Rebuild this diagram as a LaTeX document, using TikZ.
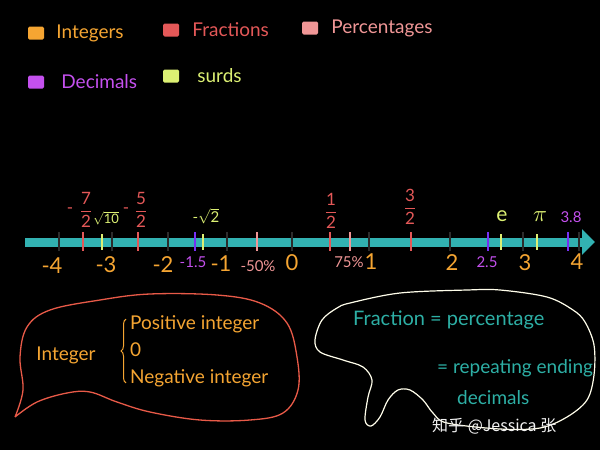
\RequirePackage{fix-cm}
\documentclass[tikz,border=0pt]{standalone}
\usepackage{fontspec}
\usepackage{amsmath}
\setmainfont{Lato}
\newfontfamily\cjkfont{Noto Sans CJK SC}
\usetikzlibrary{positioning,arrows.meta,decorations.pathreplacing}

\definecolor{intcol}{RGB}{245,165,50}
\definecolor{fraccol}{RGB}{228,88,88}
\definecolor{pctcol}{RGB}{240,150,150}
\definecolor{deccol}{RGB}{196,80,238}
\definecolor{surdcol}{RGB}{220,240,115}
\definecolor{barcol}{RGB}{50,178,178}
\definecolor{bubred}{RGB}{232,90,72}
\definecolor{tealtext}{RGB}{45,175,165}

\begin{document}
\begin{tikzpicture}[x=1pt,y=-1pt,
  key/.style={minimum width=16pt,minimum height=13pt,inner sep=0pt,rounded corners=1.5pt},
  keytext/.style={font=\fontsize{19}{22}\selectfont,inner sep=0pt},
  tick/.style={line width=1.3pt},
  lbl/.style={inner sep=0pt,font=\fontsize{22}{26}\selectfont},
  small/.style={inner sep=0pt,font=\fontsize{15}{17}\selectfont},
  fracl/.style={inner sep=0pt,font=\fontsize{17}{19}\selectfont},
  surd/.style={inner sep=0pt},
  bubtext/.style={inner sep=0pt,font=\fontsize{19}{27}\selectfont}]
\fill[black] (0,0) rectangle (600,450);
\useasboundingbox (0,0) rectangle (600,450);

% legend
\node[key,fill=intcol] (kint) at (36,33) {};
\node[keytext,text=intcol,right=12pt of kint] (tint) {Integers};
\node[key,fill=fraccol] (kfrac) at (171,30) {};
\node[keytext,text=fraccol,right=13pt of kfrac] (tfrac) {Fractions};
\node[key,fill=pctcol] (kpct) at (310,28) {};
\node[keytext,text=pctcol,right=13pt of kpct] (tpct) {Percentages};
\node[key,fill=deccol] (kdec) at (36,82) {};
\node[keytext,text=deccol,right=17pt of kdec] (tdec) {Decimals};
\node[key,fill=surdcol] (ksurd) at (171,76) {};
\node[keytext,text=surdcol,right=18pt of ksurd] (tsurd) {surds};

% number line
\coordinate (lstart) at (25,242);
\coordinate (lend) at (595,242);
\draw[line width=9pt,barcol,-{Triangle[length=13pt,width=25pt]}] (lstart) -- (lend);

% ticks
\draw[tick,gray!35!black] (59,232) -- (59,251);
\draw[tick,fraccol] (83,232) -- (83,251);
\draw[tick,surdcol] (102,234) -- (102,250);
\draw[tick,gray!35!black] (112,232) -- (112,251);
\draw[tick,fraccol] (138,232) -- (138,251);
\draw[tick,gray!35!black] (168,232) -- (168,251);
\draw[tick,deccol!60!blue] (195,232) -- (195,251);
\draw[tick,surdcol] (203,234) -- (203,250);
\draw[tick,gray!35!black] (227,232) -- (227,251);
\draw[tick,pctcol] (257,232) -- (257,251);
\draw[tick,gray!35!black] (292,232) -- (292,251);
\draw[tick,fraccol] (330,232) -- (330,251);
\draw[tick,pctcol] (350,232) -- (350,251);
\draw[tick,gray!35!black] (369,232) -- (369,251);
\draw[tick,fraccol] (411,232) -- (411,251);
\draw[tick,gray!35!black] (450,232) -- (450,251);
\draw[tick,deccol!60!blue] (488,232) -- (488,251);
\draw[tick,surdcol] (501,234) -- (501,250);
\draw[tick,gray!35!black] (523,232) -- (523,251);
\draw[tick,surdcol] (537,234) -- (537,250);
\draw[tick,deccol!60!blue] (568,232) -- (568,251);
\draw[tick,gray!35!black] (579,232) -- (579,251);

% labels below
\node[lbl,text=intcol] (nm4) at (52,266) {-4};
\node[lbl,text=intcol] (nm3) at (106,265) {-3};
\node[lbl,text=intcol] (nm2) at (163,265) {-2};
\node[lbl,text=intcol] (nm1) at (221,264) {-1};
\node[lbl,text=intcol] (n0) at (292,263) {0};
\node[lbl,text=intcol] (n1) at (371,262) {1};
\node[lbl,text=intcol] (n2) at (452,263) {2};
\node[lbl,text=intcol] (n3) at (525,263) {3};
\node[lbl,text=intcol] (n4) at (577,262) {4};
\node[small,text=deccol] (dm15) at (193,262) {-1.5};
\node[small,text=pctcol] (pm50) at (258,266) {-50\%};
\node[small,text=pctcol] (p75) at (349,262) {75\%};
\node[small,text=deccol] (d25) at (487,262) {2.5};

% labels above
\node[fracl,text=fraccol] (mfa) at (70,211) {-};
\node[fracl,text=fraccol] (fm72) at (86,210) {$\dfrac{\text{7}}{\text{2}}$};
\node[surd,text=surdcol] (sq10) at (106,218) {\scalebox{1.3}{$\sqrt{\text{10}}$}};
\node[fracl,text=fraccol] (mfb) at (126,211) {-};
\node[fracl,text=fraccol] (fm52) at (141,210) {$\dfrac{\text{5}}{\text{2}}$};
\node[surd,text=surdcol] (sqm2) at (206,216) {\scalebox{1.5}{-$\sqrt{\text{2}}$}};
\node[fracl,text=fraccol] (f12) at (331,211) {$\dfrac{\text{1}}{\text{2}}$};
\node[fracl,text=fraccol] (f32) at (410,207) {$\dfrac{\text{3}}{\text{2}}$};
\node[small,text=surdcol,font=\fontsize{21}{23}\selectfont] (se) at (502,216) {e};
\node[surd,text=surdcol] (spi) at (540,217) {\scalebox{2.3}{$\pi$}};
\node[small,text=deccol] (d38) at (571,217) {3.8};

% integer bubble
\draw[bubred,line width=1.3pt] plot[smooth,tension=0.6] coordinates {(15,417) (37,402) (67,393) (90,392) (117,402) (150,412) (200,420) (250,420) (283,413) (298,390) (297,357) (287,323) (260,303) (217,295) (150,294) (100,300) (50,310) (27,327) (20,357) (23,390) (15,417)};
\node[bubtext,text=intcol] (intword) at (66,355) {Integer};
\node[bubtext,text=intcol,align=left,anchor=west] (intlist) at (130,351) {Positive integer\\0\\Negative integer};
\draw[intcol,line width=1pt,decorate,decoration={brace,amplitude=5pt}]
  ([xshift=-4pt,yshift=4pt]intlist.south west) -- ([xshift=-4pt,yshift=-4pt]intlist.north west);

% fraction bubble
\draw[white!92!yellow,line width=1.2pt] plot[smooth cycle,tension=0.55] coordinates {(337,308) (322,320) (315,340) (320,352) (343,360) (363,367) (372,380) (368,397) (365,420) (371,426) (380,417) (388,400) (398,390) (410,390) (423,400) (433,413) (447,423) (500,429) (540,428) (567,417) (587,400) (594,375) (594,345) (585,322) (573,310) (547,297) (500,290) (467,290) (400,293) (350,303)};
\node[bubtext,text=tealtext,anchor=west,font=\fontsize{20}{24}\selectfont] (fraceq) at (353,320) {Fraction = percentage};
\node[bubtext,text=tealtext,anchor=west] (repeq) at (437,368) {= repeating ending};
\node[bubtext,text=tealtext,anchor=west] (decw) at (457,398) {decimals};

% watermark
\node[inner sep=0pt,anchor=west,text=white!90!gray,font=\cjkfont\fontsize{16}{18}\selectfont] (wmark) at (432,426) {知乎 @Jessica 张};
\end{tikzpicture}
\end{document}
